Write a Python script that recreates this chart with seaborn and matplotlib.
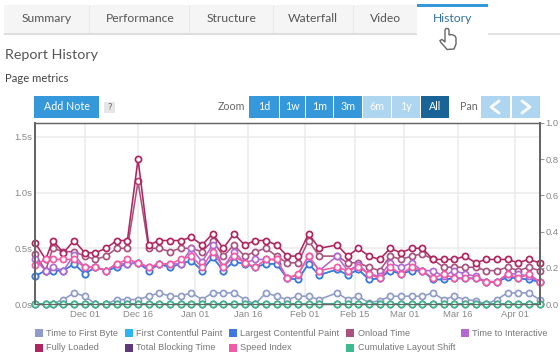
import matplotlib
matplotlib.use("Agg")
import matplotlib.pyplot as plt
from matplotlib.patches import Rectangle, Polygon
import pandas as pd
import seaborn as sns

dates = ["2020-11-17","2020-11-20","2020-11-22","2020-11-25","2020-11-28","2020-12-01","2020-12-04","2020-12-07",
         "2020-12-10","2020-12-13","2020-12-16","2020-12-19","2020-12-22","2020-12-25","2020-12-28","2020-12-31",
         "2021-01-03","2021-01-06","2021-01-09","2021-01-12","2021-01-15","2021-01-18","2021-01-21","2021-01-24",
         "2021-01-27","2021-01-30","2021-02-02","2021-02-05","2021-02-10","2021-02-13","2021-02-16","2021-02-19",
         "2021-02-22","2021-02-25","2021-02-28","2021-03-03","2021-03-06","2021-03-09","2021-03-12","2021-03-15",
         "2021-03-18","2021-03-21","2021-03-24","2021-03-27","2021-03-30","2021-04-02","2021-04-05","2021-04-08"]
ttfb = [0,0,0,.04,.10,.07,0,0,.04,.04,.04,.07,.10,.07,.07,.10,.04,.10,.10,.10,.04,0,.10,.07,
        .04,.07,.07,.04,.10,.04,.07,.01,.03,.07,.07,.07,.07,.10,.04,.07,.04,.03,0,.04,.10,.10,.10,.04]
lcp = [.25,.30,.30,.30,.36,.27,.33,.30,.33,.36,.37,.30,.36,.33,.36,.39,.30,.42,.30,.38,.36,.33,.36,.36,
       .23,.22,.36,.26,.31,.26,.31,.22,.23,.30,.27,.30,.30,.22,.22,.23,.23,.23,.20,.20,.24,.23,.22,.20]
fcp = [.25,.30,.30,.30,.36,.27,.33,.30,.33,.36,.37,.30,.36,.33,.36,.39,.30,.42,.30,.38,.36,.33,.36,.36,
       .23,.22,.36,.26,.31,.26,.31,.22,.23,.30,.27,.30,.30,.22,.22,.23,.23,.23,.20,.20,.24,.23,.22,.20]
onload = [.45,.30,.50,.47,.47,.43,.40,.43,.50,.50,1.10,.50,.50,.47,.50,.50,.47,.57,.43,.53,.43,.47,.50,.43,
          .37,.37,.57,.43,.43,.37,.37,.33,.30,.43,.40,.43,.45,.40,.33,.33,.33,.33,.30,.30,.33,.30,.33,.30]
tti = [.40,.30,.33,.30,.44,.33,.33,.30,.36,.36,.37,.33,.36,.36,.36,.50,.38,.53,.33,.47,.37,.40,.40,.40,
       .23,.26,.43,.30,.43,.30,.35,.27,.25,.37,.33,.37,.30,.30,.25,.30,.27,.25,.20,.20,.27,.27,.25,.20]
fully = [.55,.40,.57,.46,.57,.46,.46,.50,.57,.57,1.30,.53,.57,.57,.57,.60,.53,.63,.50,.63,.53,.57,.57,.53,
         .43,.43,.63,.50,.53,.43,.50,.43,.40,.50,.46,.50,.50,.40,.40,.40,.43,.37,.40,.40,.40,.37,.40,.37]
tbt = [0]*48
speed = [.35,.40,.40,.40,.40,.33,.33,.30,.36,.40,.37,.33,.36,.36,.40,.43,.33,.47,.33,.43,.37,.33,.40,.40,
         .23,.27,.43,.30,.33,.30,.33,.27,.23,.33,.27,.33,.30,.23,.27,.23,.23,.23,.20,.20,.27,.23,.27,.20]
cls = [0]*48
legend_names = ["Time to First Byte","First Contentful Paint","Largest Contentful Paint","Onload Time","Time to Interactive",
                "Fully Loaded","Total Blocking Time","Speed Index","Cumulative Layout Shift"]
colors = ["#8f9cc9","#2cb5f0","#3f78dc","#a9527f","#b268d2","#b0245f","#5f3a78","#f25aa5","#3dbb8f"]
tabs = ["Summary","Performance","Structure","Waterfall","Video","History"]
zoom_labels = ["1d","1w","1m","3m","6m","1y","All"]
right_ticks = [0.0,0.2,0.4,0.6,0.8,1.0]
left_ticks = [0.0,0.5,1.0,1.5]
left_labels = ["0.0s","0.5s","1.0s","1.5s"]
date_ticks = ["2020-12-01","2020-12-16","2021-01-01","2021-01-16","2021-02-01","2021-02-15","2021-03-01","2021-03-16","2021-04-01"]
date_labels = ["Dec 01","Dec 16","Jan 01","Jan 16","Feb 01","Feb 15","Mar 01","Mar 16","Apr 01"]

W, H = 560, 357
sns.set_theme(style="white")
plt.rcParams["font.family"] = ["Liberation Sans", "DejaVu Sans"]
fig = plt.figure(figsize=(W/100, H/100), dpi=100, facecolor="white")

ui = fig.add_axes([0, 0, 1, 1], zorder=0)
ui.set_xlim(0, W); ui.set_ylim(H, 0); ui.axis("off")
UI = "Lato"
def box(x0, x1, y0, y1, c, **k):
    ui.add_patch(Rectangle((x0, y0), x1-x0, y1-y0, fc=c, ec="none", **k))
def label(x, y, s, c="#555555", size=9, ha="center", fam=UI):
    ui.text(x, y, s, color=c, fontsize=size, ha=ha, va="center", family=fam)

box(4, 417, 5, 33, "#f5f5f5")
box(4, 417, 33, 35, "#dddddd")
box(488, 560, 33, 35, "#e2e2e2")
box(417, 488, 4, 6.5, "#3498db")
for x in [89, 189, 273, 353]:
    box(x, x+1, 5, 33, "#e8e8e8")
tab_x = [47, 140, 232, 313, 386, 453]
for t, x in zip(tabs, tab_x):
    label(x, 19, t, "#2f6f9f" if t == "History" else "#555555", 8.7)
hand = [(445,39),(445,30),(446,28.5),(448,28.5),(449,30),(449,35),(451,34.5),(453,35),(455,36),(456,38),(456,44),
        (454,49),(447,49.5),(445,47),(440.5,42),(440,40.5),(442,39.5),(445,42)]
ui.add_patch(Polygon(hand, closed=True, fc="white", ec="#666666", lw=1, zorder=5))

label(5, 55, "Report History", "#555555", 10.3, "left")
label(5, 79, "Page metrics", "#444444", 8.1, "left")
box(34, 99, 96, 118, "#3498db")
label(66.5, 107, "Add Note", "white", 7.7)
box(104, 115, 102, 113, "#e6e6e6")
label(109.5, 107.5, "?", "#666666", 6, fam="DejaVu Sans")
label(245, 107, "Zoom", "#666666", 7.7, "right")
edges = [248.5, 280, 305.5, 334, 363, 391.5, 420.5, 449.5]
fills = ["#3498db"]*4 + ["#aed6f1"]*2 + ["#1a6396"]
for i, z in enumerate(zoom_labels):
    box(edges[i], edges[i+1]-0.6, 96, 118, fills[i])
    label((edges[i]+edges[i+1])/2, 107, z, "white", 7.7)
label(469, 106, "Pan", "#666666", 7.7)
box(481, 509.5, 96, 118, "#aed6f1")
box(512, 540, 96, 118, "#aed6f1")
ui.plot([499, 491, 499], [101, 107, 113], color="white", lw=2.0)
ui.plot([522, 530, 522], [101, 107, 113], color="white", lw=2.0)

x_l, x_r, y_t, y_b = 35.0, 539.5, 123.0, 304.0
ax = fig.add_axes([x_l/W, 1-y_b/H, (x_r-x_l)/W, (y_b-y_t)/H], zorder=2)
ax.set_facecolor("white")
dt = pd.to_datetime(dates)
main = [ttfb, fcp, lcp, onload, tti, fully, tbt, speed]
style = dict(marker="o", markersize=4.4, markerfacecolor="white", markeredgewidth=1.25, linewidth=1.15,
             legend=False, clip_on=False, errorbar=None)
for vals, c in zip(main, colors[:8]):
    sns.lineplot(x=dt, y=vals, color=c, markeredgecolor=c, ax=ax, **style)
ax.set_xlim(dt[0], dt[-1])
ax.set_ylim(0, 1.625)
ax.set_xlabel(""); ax.set_ylabel("")
ax.set_xticks(pd.to_datetime(date_ticks)); ax.set_xticklabels(date_labels)
ax.set_yticks(left_ticks); ax.set_yticklabels(left_labels)
ax.grid(True, color="#ebebeb", lw=1.1)
ax.set_axisbelow(True)
ax.tick_params(axis="x", length=0, pad=4, labelsize=6.8, labelcolor="#888888")
ax.tick_params(axis="y", length=0, pad=2, labelsize=6.8, labelcolor="#888888")

ax2 = ax.twinx()
sns.lineplot(x=dt, y=cls, color=colors[8], markeredgecolor=colors[8], ax=ax2, **style)
ax2.set_ylim(0, 1); ax2.set_ylabel("")
ax2.set_yticks(right_ticks); ax2.set_yticklabels([f"{v:.1f}" for v in right_ticks])
ax2.grid(False)
ax2.tick_params(axis="y", length=3, width=0.8, color="#999999", pad=1.5, labelsize=6.8, labelcolor="#888888")
for a in (ax, ax2):
    for side, sp in a.spines.items():
        sp.set_visible(True)
        sp.set_color("#666666")
        sp.set_linewidth(1.4 if side in ("left", "right") else 0.9)

leg_x = [35, 125, 229, 346, 460.5]
leg_y = [333, 347.5]
slots = [(0,0),(1,0),(2,0),(3,0),(4,0),(0,1),(1,1),(2,1),(3,1)]
for name, c, (col, row) in zip(legend_names, colors, slots):
    box(leg_x[col], leg_x[col]+8, leg_y[row]-4, leg_y[row]+4, c)
    label(leg_x[col]+11.5, leg_y[row], name, "#777777", 6.6, "left", "Liberation Sans")

fig.savefig("out.png", dpi=100)
